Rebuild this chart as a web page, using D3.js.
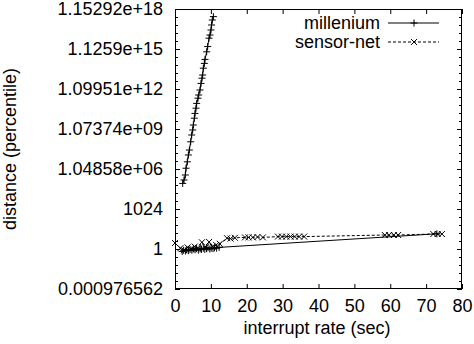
<!DOCTYPE html>
<html>
<head>
<meta charset="utf-8">
<script src="https://cdn.jsdelivr.net/npm/d3@7"></script>
<style>
  html, body { margin: 0; padding: 0; background: #fff; }
  svg { display: block; font-family: "Liberation Sans", Arial, Helvetica, sans-serif; }
</style>
</head>
<body>
<svg id="chart" width="474" height="344"></svg>
<script>
// Interrupt rate (sec) against distance (percentile), log2 y axis.

// millenium: steep run
const milleniumX = [2.14, 2.51, 2.88, 3.07, 3.44, 3.72, 4.0, 4.37, 4.65, 4.93, 5.11, 5.39, 5.57, 5.85,
  6.04, 6.41, 6.6, 6.97, 7.25, 7.53, 7.71, 7.9, 8.18, 8.36, 8.83, 9.1, 9.48, 9.76, 10.03, 10.2, 10.4, 10.7];
const milleniumY = [8.65e4, 1.56e5, 3.71e5, 1.20e6, 3.65e6, 1.19e7, 2.82e7, 1.17e8, 3.80e8, 9.03e8,
  2.15e9, 6.98e9, 1.60e10, 3.95e10, 9.07e10, 2.23e11, 3.89e11, 9.25e11, 2.90e12, 7.15e12, 1.24e13,
  4.05e13, 9.29e13, 1.86e14, 6.93e14, 1.71e15, 7.31e15, 1.27e16, 3.03e16, 7.21e16, 1.71e17, 3.09e17];

// millenium: low run
const milleniumLowX = [2.0, 2.4, 2.9, 3.3, 3.8, 4.2, 4.7, 5.1, 5.6, 6.0, 6.5, 7.0, 7.4, 7.9, 8.3, 8.8,
  9.2, 9.7, 10.1, 10.6, 11.0, 11.6, 12.3, 73.0];
const milleniumLowY = [0.66, 0.81, 0.71, 0.87, 0.76, 0.93, 0.81, 1.0, 0.87, 1.07, 0.81, 1.0, 0.93, 1.15,
  0.93, 1.07, 1.23, 1.0, 1.15, 1.07, 1.23, 1.15, 1.32, 13.9];

// sensor-net
const sensorX = [0, 1.5, 2.5, 3.5, 4.5, 5.5, 6.5, 7.5, 8.5, 9.5, 10.5, 11.5, 12.5, 14.5, 15.5, 16.7,
  19.5, 20.5, 21.7, 23.0, 24.5, 28.7, 29.8, 31.0, 32.2, 33.4, 34.6, 36.0, 58.5, 59.7, 61.0, 62.2,
  72.0, 73.2, 74.4];
const sensorY = [2.83, 1.15, 0.81, 1.32, 1.0, 1.52, 1.15, 3.2, 1.41, 3.4, 1.52, 2.0, 2.46, 6.5, 6.06, 6.96,
  7.46, 7.46, 7.46, 8.0, 7.46, 8.57, 8.57, 8.57, 8.57, 8.57, 8.57, 8.57, 11.3, 11.3, 11.3, 11.3,
  13.45, 13.45, 13.45];

const xTicks = [0, 10, 20, 30, 40, 50, 60, 70, 80];
const yTicks = [0.0009765625, 1, 1024, 1048576, 1073741824, 1099511627776, 1125899906842624, 1152921504606846976];
const yTickLabels = ["0.000976562", "1", "1024", "1.04858e+06", "1.07374e+09", "1.09951e+12", "1.1259e+15", "1.15292e+18"];

const seriesNames = ["millenium", "sensor-net"];

const svg = d3.select("#chart");
const L = 175, R = 462, T = 9, B = 289;

const x = d3.scaleLinear().domain([0, 80]).range([L, R]);
const y = d3.scaleLog().base(2).domain([yTicks[0], yTicks[yTicks.length - 1]]).range([B, T]);

const FS = 18;

// minor y ticks every factor of 4
const yMinor = d3.range(-10, 61, 2).filter(p => p % 10 !== 0).map(p => Math.pow(2, p));

function styleAxis(g) {
  g.select(".domain").remove();
  g.selectAll("line").attr("stroke", "#000").attr("stroke-width", 1);
  g.selectAll("text").attr("font-size", FS).attr("fill", "#000").attr("font-family", "Liberation Sans, Arial, sans-serif");
}

// bottom / top
svg.append("g").attr("transform", `translate(0,${B})`)
  .call(d3.axisBottom(x).tickValues(xTicks).tickSize(-5).tickPadding(10).tickFormat(d3.format("d")))
  .call(styleAxis);
svg.append("g").attr("transform", `translate(0,${T})`)
  .call(d3.axisTop(x).tickValues(xTicks).tickSize(-5).tickFormat(""))
  .call(styleAxis);

// left / right majors
svg.append("g").attr("transform", `translate(${L},0)`)
  .call(d3.axisLeft(y).tickValues(yTicks).tickSize(-5).tickPadding(12).tickFormat((d, i) => yTickLabels[i]))
  .call(styleAxis);
svg.append("g").attr("transform", `translate(${R},0)`)
  .call(d3.axisRight(y).tickValues(yTicks).tickSize(-5).tickFormat(""))
  .call(styleAxis);
// minors
svg.append("g").attr("transform", `translate(${L},0)`)
  .call(d3.axisLeft(y).tickValues(yMinor).tickSize(-3).tickFormat(""))
  .call(styleAxis);
svg.append("g").attr("transform", `translate(${R},0)`)
  .call(d3.axisRight(y).tickValues(yMinor).tickSize(-3).tickFormat(""))
  .call(styleAxis);

// frame
svg.append("rect").attr("x", L + 0.5).attr("y", T + 0.5)
  .attr("width", R - L - 1).attr("height", B - T - 1)
  .attr("fill", "none").attr("stroke", "#000").attr("stroke-width", 1);

// axis titles
svg.append("text").attr("x", 317).attr("y", 334).attr("text-anchor", "middle")
  .attr("font-size", FS).text("interrupt rate (sec)");
svg.append("text").attr("transform", "translate(16,149) rotate(-90)").attr("text-anchor", "middle")
  .attr("font-size", FS).text("distance (percentile)");

const line = d3.line().x(d => x(d[0])).y(d => y(d[1]));
const plotG = svg.append("g");

function plusPath(s) { return `M${-s},0H${s}M0,${-s}V${s}`; }
function crossPath(s) { return `M${-s},${-s}L${s},${s}M${-s},${s}L${s},${-s}`; }

function drawSeries(xs, ys, dash, marker) {
  const pts = xs.map((v, i) => [v, ys[i]]);
  plotG.append("path").datum(pts).attr("d", line)
    .attr("fill", "none").attr("stroke", "#000").attr("stroke-width", 1)
    .attr("stroke-dasharray", dash);
  plotG.append("g").selectAll("path").data(pts).join("path")
    .attr("transform", d => `translate(${x(d[0])},${y(d[1])})`)
    .attr("d", marker).attr("fill", "none").attr("stroke", "#000").attr("stroke-width", 1);
}

drawSeries(sensorX, sensorY, "3,2", crossPath(3));
drawSeries(milleniumX, milleniumY, null, plusPath(3.5));
drawSeries(milleniumLowX, milleniumLowY, null, plusPath(3.5));

// legend
const leg = svg.append("g");
const legRows = [
  { name: seriesNames[0], y: 23, dash: null, marker: plusPath(3.5) },
  { name: seriesNames[1], y: 42, dash: "3,2", marker: crossPath(3) }
];
legRows.forEach(r => {
  leg.append("text").attr("x", 380).attr("y", r.y).attr("dy", "0.35em")
    .attr("text-anchor", "end").attr("font-size", FS).text(r.name);
  leg.append("line").attr("x1", 388).attr("x2", 439).attr("y1", r.y).attr("y2", r.y)
    .attr("stroke", "#000").attr("stroke-width", 1).attr("stroke-dasharray", r.dash);
  leg.append("path").attr("transform", `translate(414,${r.y})`).attr("d", r.marker)
    .attr("fill", "none").attr("stroke", "#000");
});
</script>
</body>
</html>
